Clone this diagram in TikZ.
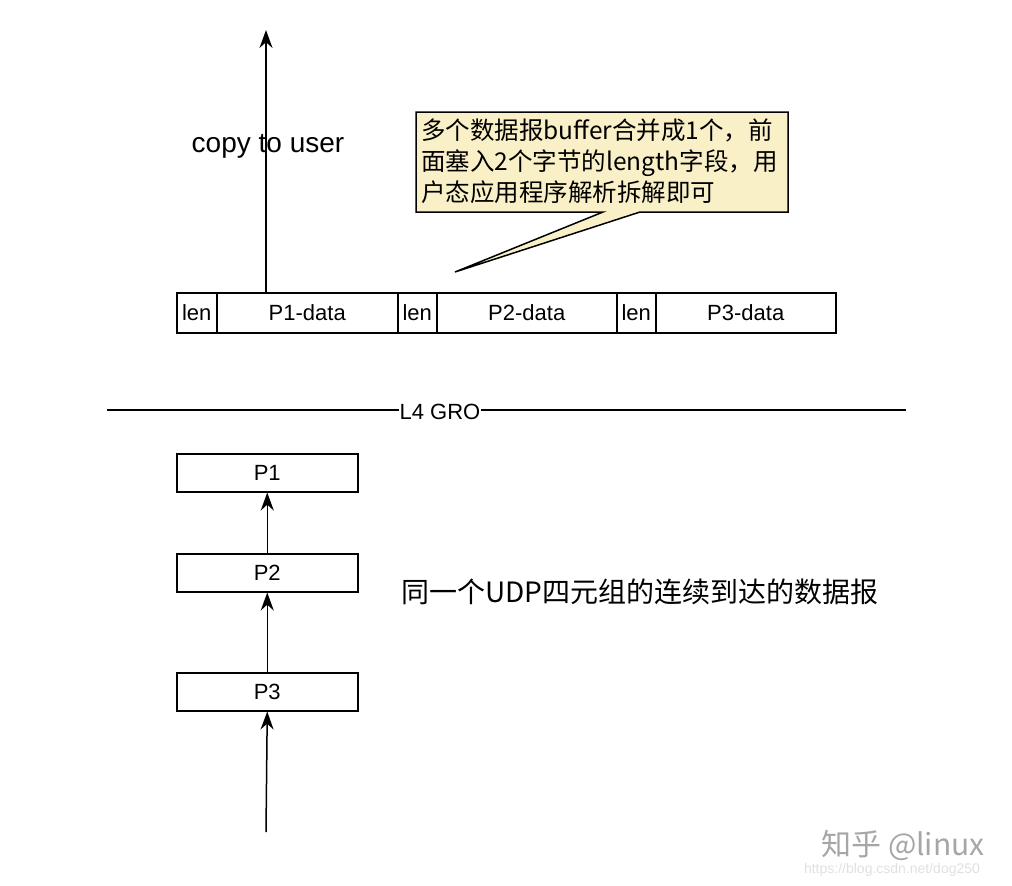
\documentclass[tikz,border=0pt]{standalone}
\usepackage{fontspec}
\setmainfont{Liberation Sans}
\newfontfamily\cjk{Noto Sans CJK SC}
\usetikzlibrary{arrows.meta}
\begin{document}
\begin{tikzpicture}[x=1pt,y=-1pt,
  cell/.style={draw,line width=1.5pt,minimum height=40pt,inner sep=0pt,anchor=north west,font=\fontsize{22}{26}\selectfont},
  pkt/.style={draw,line width=1.5pt,minimum width=181pt,minimum height=38pt,inner sep=0pt,anchor=north west,font=\fontsize{22}{26}\selectfont},
  arr/.style={line width=1.5pt,-{Stealth[length=18pt,width=13pt]}}]
\useasboundingbox (0,0) rectangle (1012,886);
% buffer row
\node[cell,minimum width=40pt] (l1) at (176,292) {len};
\node[cell,minimum width=181pt] (d1) at (216,292) {P1-data};
\node[cell,minimum width=39pt] (l2) at (397,292) {len};
\node[cell,minimum width=180pt] (d2) at (436,292) {P2-data};
\node[cell,minimum width=39pt] (l3) at (616,292) {len};
\node[cell,minimum width=180pt] (d3) at (655,292) {P3-data};
\coordinate (up) at (266,30);
\draw[arr] (266,292) -- (up);
\node[font=\fontsize{28}{32}\selectfont] (cu) at (268,146) {copy to user};
% callout
\draw[line width=1.5pt,fill={rgb,255:red,250;green,240;blue,200}] (416,112) -- (788,112) -- (788,212) -- (640,212) -- (455,272) -- (603,212) -- (416,212) -- cycle;
\node[anchor=north west,align=left,inner sep=0pt,font=\cjk\fontsize{24.5}{31}\selectfont] (note) at (421,119) {多个数据报buffer合并成1个，前\\面塞入2个字节的length字段，用\\户态应用程序解析拆解即可};
% GRO line
\coordinate (g1) at (107,410); \coordinate (g2) at (906,410);
\draw[line width=1.5pt] (g1) -- (g2);
\node[fill=white,inner sep=1pt,font=\fontsize{22}{26}\selectfont] (gro) at (440,412) {L4 GRO};
% packets
\node[pkt] (p1) at (176,453) {P1};
\node[pkt] (p2) at (176,553) {P2};
\node[pkt] (p3) at (176,672) {P3};
\coordinate (in) at (266,832);
\draw[arr] (p2.north) -- (p1.south);
\draw[arr] (p3.north) -- (p2.south);
\draw[arr] (in) -- (p3.south);
\node[font=\cjk\fontsize{28}{32}\selectfont] (desc) at (640,592) {同一个UDP四元组的连续到达的数据报};
% watermark
\node[text=black!35,font=\cjk\fontsize{30}{32}\selectfont] (wm) at (903,845) {知乎 @linux};
\node[text=black!12,font=\fontsize{14}{16}\selectfont] (wm2) at (892,870) {https://blog.csdn.net/dog250};
\end{tikzpicture}
\end{document}
